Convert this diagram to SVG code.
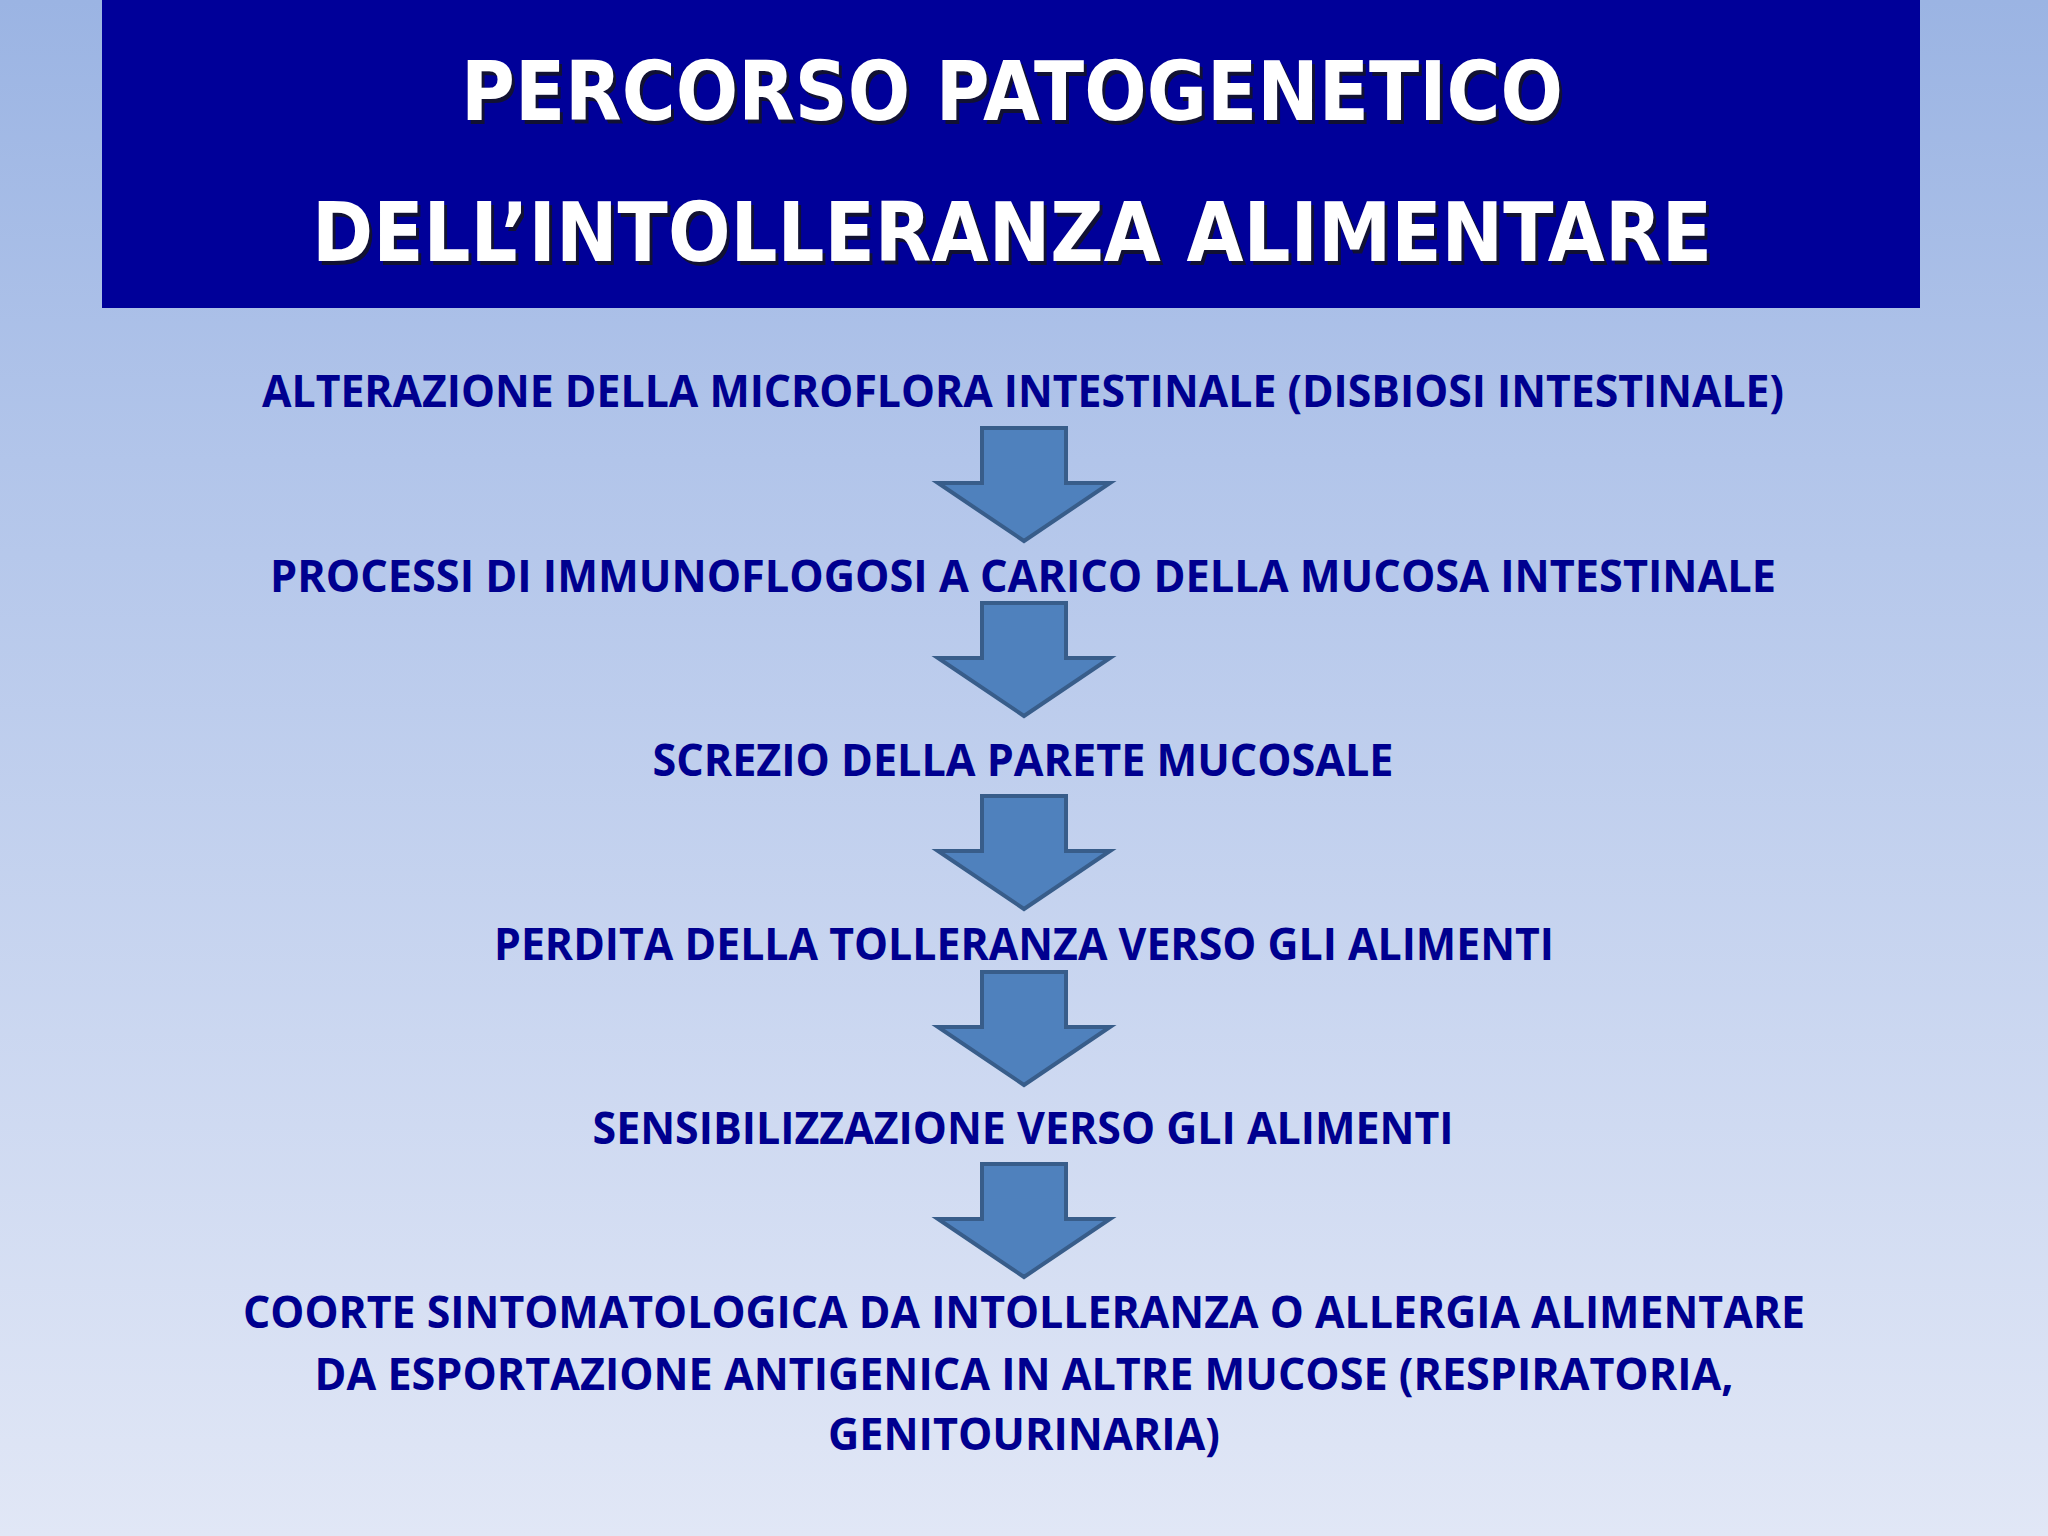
<svg xmlns="http://www.w3.org/2000/svg" width="2048" height="1536" viewBox="0 0 2048 1536">
<defs>
<linearGradient id="bg" x1="0" y1="0" x2="0" y2="1">
<stop offset="0" stop-color="#9bb4e3"/>
<stop offset="0.3" stop-color="#b2c5ea"/>
<stop offset="1" stop-color="#e1e7f6"/>
</linearGradient>
<path id="arrow" d="M-42,0 H42 V55 H86 L0,113 L-86,55 H-42 Z"/>
</defs>
<style>
.title{font-family:"DejaVu Sans",Verdana,sans-serif;font-weight:bold;font-size:82px;text-anchor:middle}
.tw{fill:#ffffff}
.ts{fill:#111133}
.step{font-family:"Open Sans","Liberation Sans",sans-serif;font-weight:bold;font-size:45px;fill:#00008f;text-anchor:middle}
.arr{fill:#4f81bd;stroke:#385d8a;stroke-width:4;stroke-linejoin:miter}
</style>
<rect width="2048" height="1536" fill="url(#bg)"/>
<g id="title">
<rect x="102" y="0" width="1818" height="308" fill="#000099"/>
<text class="title ts" x="1015" y="124" textLength="1102" lengthAdjust="spacingAndGlyphs">PERCORSO PATOGENETICO</text>
<text class="title tw" x="1012" y="120" textLength="1102" lengthAdjust="spacingAndGlyphs">PERCORSO PATOGENETICO</text>
<text class="title ts" x="1015" y="265" textLength="1400" lengthAdjust="spacingAndGlyphs">DELL’INTOLLERANZA ALIMENTARE</text>
<text class="title tw" x="1012" y="261" textLength="1400" lengthAdjust="spacingAndGlyphs">DELL’INTOLLERANZA ALIMENTARE</text>
</g>
<g id="step1"><text class="step" x="1023" y="407" textLength="1522" lengthAdjust="spacingAndGlyphs">ALTERAZIONE DELLA MICROFLORA INTESTINALE (DISBIOSI INTESTINALE)</text></g>
<g id="step2"><text class="step" x="1023" y="592" textLength="1506" lengthAdjust="spacingAndGlyphs">PROCESSI DI IMMUNOFLOGOSI A CARICO DELLA MUCOSA INTESTINALE</text></g>
<g id="step3"><text class="step" x="1023" y="776" textLength="741" lengthAdjust="spacingAndGlyphs">SCREZIO DELLA PARETE MUCOSALE</text></g>
<g id="step4"><text class="step" x="1024" y="960" textLength="1060" lengthAdjust="spacingAndGlyphs">PERDITA DELLA TOLLERANZA VERSO GLI ALIMENTI</text></g>
<g id="step5"><text class="step" x="1023" y="1144" textLength="861" lengthAdjust="spacingAndGlyphs">SENSIBILIZZAZIONE VERSO GLI ALIMENTI</text></g>
<g id="step6">
<text class="step" x="1024" y="1328" textLength="1562" lengthAdjust="spacingAndGlyphs">COORTE SINTOMATOLOGICA DA INTOLLERANZA O ALLERGIA ALIMENTARE</text>
<text class="step" x="1024" y="1390" textLength="1419" lengthAdjust="spacingAndGlyphs">DA ESPORTAZIONE ANTIGENICA IN ALTRE MUCOSE (RESPIRATORIA,</text>
<text class="step" x="1024" y="1450" textLength="392" lengthAdjust="spacingAndGlyphs">GENITOURINARIA)</text>
</g>
<g id="connectors">
<use href="#arrow" class="arr" x="1024" y="428"/>
<use href="#arrow" class="arr" x="1024" y="603"/>
<use href="#arrow" class="arr" x="1024" y="796"/>
<use href="#arrow" class="arr" x="1024" y="972"/>
<use href="#arrow" class="arr" x="1024" y="1164"/>
</g>
</svg>
